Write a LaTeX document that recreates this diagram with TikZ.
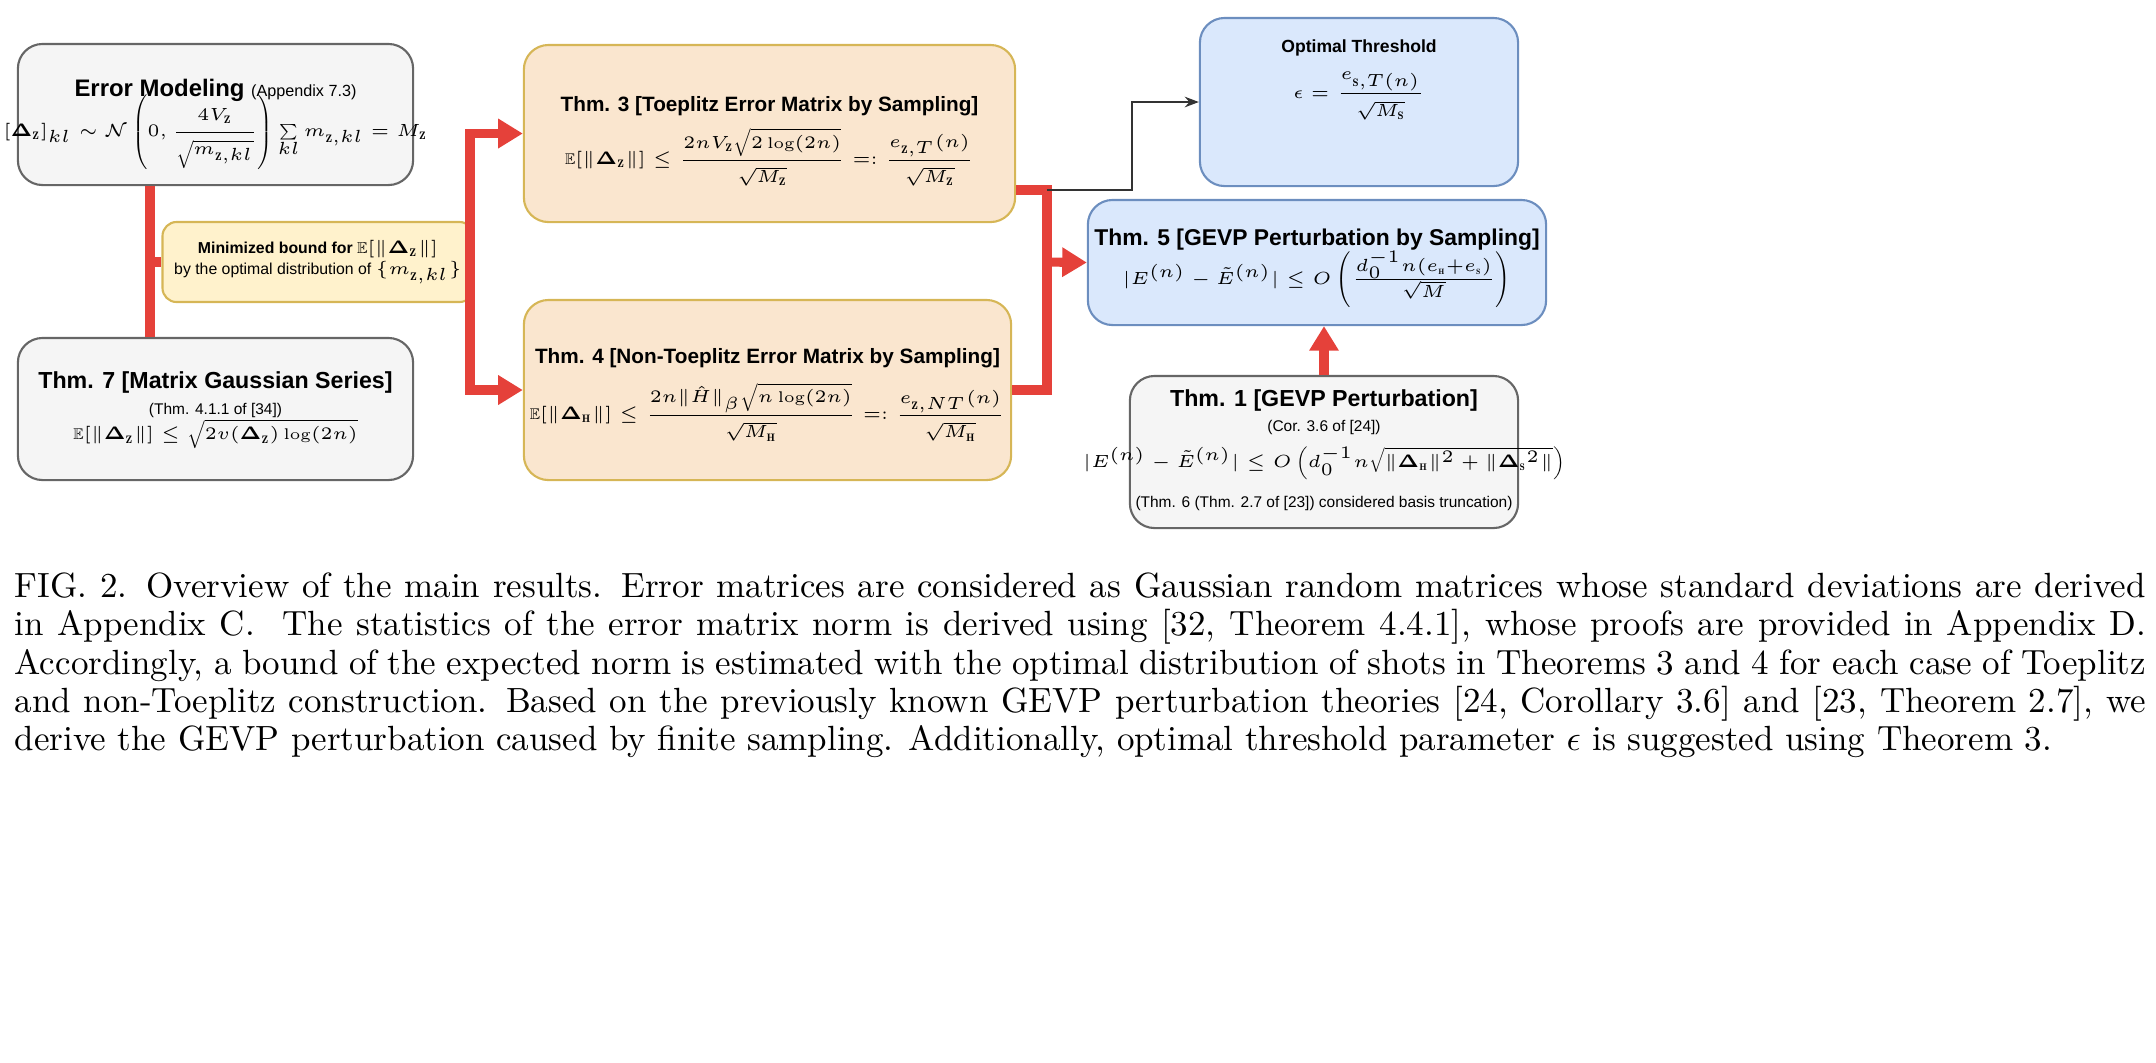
\documentclass[tikz,border=0pt]{standalone}
\usepackage{amsmath,amssymb,bm}
\usepackage{fontspec}
\setsansfont{Liberation Sans}
\usetikzlibrary{arrows.meta}
\definecolor{gfill}{HTML}{F5F5F5}\definecolor{gdraw}{HTML}{666666}
\definecolor{ofill}{HTML}{FAE6CF}\definecolor{odraw}{HTML}{D6B656}
\definecolor{yfill}{HTML}{FFF2CC}
\definecolor{bfill}{HTML}{DAE8FC}\definecolor{bdraw}{HTML}{6C8EBF}
\definecolor{redc}{HTML}{E5413A}
\tikzset{
 gbox/.style={draw=gdraw,fill=gfill,rounded corners=7pt,line width=0.6pt},
 obox/.style={draw=odraw,fill=ofill,rounded corners=7pt,line width=0.6pt},
 ybox/.style={draw=odraw,fill=yfill,rounded corners=4pt,line width=0.6pt,align=center,font=\sffamily\fontsize{4.5}{6}\selectfont},
 bbox/.style={draw=bdraw,fill=bfill,rounded corners=7pt,line width=0.6pt},
 redl/.style={draw=redc,line width=2.6pt},
 reda/.style={redl,-{Triangle[length=7pt,width=8pt]}},
 blk/.style={draw=black!80,line width=0.6pt,-{Stealth[length=4pt]}},
 ttl/.style={font=\sffamily\bfseries\fontsize{5.9}{7}\selectfont},
 gttl/.style={font=\sffamily\bfseries\fontsize{6.6}{8}\selectfont},
 sml/.style={font=\sffamily\fontsize{4.4}{5}\selectfont},
 mth/.style={font=\fontsize{4.4}{5.5}\selectfont}
}
\begin{document}
\begin{tikzpicture}[x=0.01cm,y=-0.01cm]
\useasboundingbox (0,0) rectangle (2156,1062);
% boxes
\node[gbox,minimum width=3.95cm,minimum height=1.41cm] (err) at (215.5,114.5) {};
\node at (215.5,90) {\sffamily\bfseries\fontsize{6.8}{8}\selectfont Error Modeling \mdseries\fontsize{4.6}{6}\selectfont(Appendix 7.3)};
\node[mth] at (215.5,132) {$[\bm{\Delta}_{\mathbf{Z}}]_{kl}\sim\mathcal{N}\left(0,\dfrac{4V_{\mathbf{Z}}}{\sqrt{m_{\mathbf{Z},kl}}}\right)\sum\limits_{kl}m_{\mathbf{Z},kl}=M_{\mathbf{Z}}$};
\node[gbox,minimum width=3.95cm,minimum height=1.42cm] (t7) at (215.5,409) {};
\node[gttl] at (215.5,382) {Thm. 7 [Matrix Gaussian Series]};
\node[sml] at (215.5,410) {(Thm. 4.1.1 of [34])};
\node[mth] at (215.5,434) {$\mathbb{E}[\|\bm{\Delta}_{\mathbf{Z}}\|]\le\sqrt{2v(\bm{\Delta}_{\mathbf{Z}})\log(2n)}$};
\node[ybox,minimum width=2.8cm,minimum height=0.8cm] (min) at (318,262) {\textbf{Minimized bound for} $\mathbb{E}[\|\bm{\Delta}_{\mathbf{Z}}\|]$\\by the optimal distribution of $\{m_{\mathbf{Z},kl}\}$};
\node[obox,minimum width=4.91cm,minimum height=1.77cm] (t3) at (769.5,133.5) {};
\node[ttl] at (769.5,106) {Thm. 3 [Toeplitz Error Matrix by Sampling]};
\node[mth] at (769.5,157) {$\mathbb{E}[\|\bm{\Delta}_{\mathbf{Z}}\|]\le\dfrac{2nV_{\mathbf{Z}}\sqrt{2\log(2n)}}{\sqrt{M_{\mathbf{Z}}}}=:\dfrac{e_{\mathbf{Z},T}(n)}{\sqrt{M_{\mathbf{Z}}}}$};
\node[obox,minimum width=4.87cm,minimum height=1.8cm] (t4) at (767.5,390) {};
\node[ttl] at (767.5,358) {Thm. 4 [Non-Toeplitz Error Matrix by Sampling]};
\node[mth] at (767.5,412) {$\mathbb{E}[\|\bm{\Delta}_{\mathbf{H}}\|]\le\dfrac{2n\|\hat{H}\|_{\beta}\sqrt{n\log(2n)}}{\sqrt{M_{\mathbf{H}}}}=:\dfrac{e_{\mathbf{Z},NT}(n)}{\sqrt{M_{\mathbf{H}}}}$};
\node[bbox,minimum width=3.18cm,minimum height=1.68cm] (opt) at (1359,102) {};
\node[font=\sffamily\bfseries\fontsize{5}{6}\selectfont] at (1359,48) {Optimal Threshold};
\node[mth] at (1359,96) {$\epsilon=\dfrac{e_{\mathbf{S},T(n)}}{\sqrt{M_{\mathbf{S}}}}$};
\node[bbox,minimum width=4.58cm,minimum height=1.25cm] (t5) at (1317,262.5) {};
\node[font=\sffamily\bfseries\fontsize{6.5}{8}\selectfont] at (1317,240) {Thm. 5 [GEVP Perturbation by Sampling]};
\node[mth] at (1317,279) {$|E^{(n)}-\tilde{E}^{(n)}|\le O\left(\frac{d_0^{-1}n(e_{\mathbf{H}}+e_{\mathbf{S}})}{\sqrt{M}}\right)$};
\node[gbox,minimum width=3.88cm,minimum height=1.52cm] (t1) at (1324,452) {};
\node[gttl] at (1324,400) {Thm. 1 [GEVP Perturbation]};
\node[sml] at (1324,427) {(Cor. 3.6 of [24])};
\node[font=\fontsize{3.9}{5}\selectfont] at (1324,463) {$|E^{(n)}-\tilde{E}^{(n)}|\le O\left(d_0^{-1}n\sqrt{\|\bm{\Delta}_{\mathbf{H}}\|^2+\|{\bm{\Delta}_{\mathbf{S}}}^2\|}\right)$};
\node[sml] at (1324,503) {(Thm. 6 (Thm. 2.7 of [23]) considered basis truncation)};
% connectors
\coordinate (jl) at (150,262);
\draw[redl] (err.south -| jl) -- (t7.north -| jl);
\draw[redl] (jl) -- (min.west);
\coordinate (jm) at (470,262);
\draw[redl] (min.east) -- (jm);
\draw[reda] (jm) |- (t3.west);
\draw[reda] (jm) |- (t4.west);
\coordinate (jr) at (1047,262);
\coordinate (j3) at (1047,190);
\coordinate (j4) at (1047,390);
\draw[redl] (t3.east |- j3) -- (j3) -- (j4) -- (t4.east |- j4);
\draw[reda] (jr) -- (t5.west);
\coordinate (bk) at (1132,190);
\draw[blk] (j3) -- (bk) |- (opt.west);
\draw[reda] (t1.north) -- (t1.north |- t5.south);
% caption
\node[anchor=north west,text width=21.3cm,align=justify,inner sep=0pt,font=\fontsize{9.95}{10.9}\selectfont] (cap) at (14,572) {FIG. 2. Overview of the main results. Error matrices are considered as Gaussian random matrices whose standard deviations are derived in Appendix C.\ \ The statistics of the error matrix norm is derived using [32, Theorem 4.4.1], whose proofs are provided in Appendix D.\ \ Accordingly, a bound of the expected norm is estimated with the optimal distribution of shots in Theorems 3 and 4 for each case of Toeplitz and non-Toeplitz construction. Based on the previously known GEVP perturbation theories [24, Corollary 3.6] and [23, Theorem 2.7], we derive the GEVP perturbation caused by finite sampling. Additionally, optimal threshold parameter $\epsilon$ is suggested using Theorem 3.};
\end{tikzpicture}
\end{document}
